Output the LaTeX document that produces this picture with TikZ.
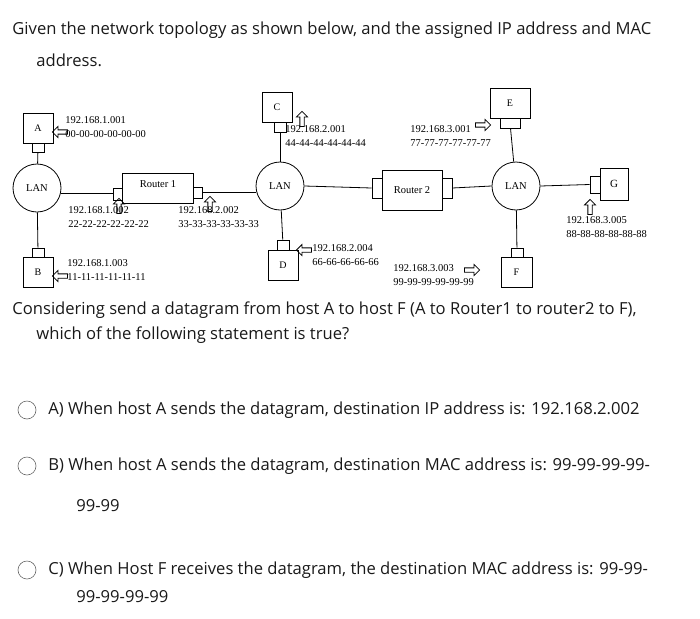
\documentclass[tikz,border=0pt]{standalone}
\usepackage{fontspec}
\setmainfont{Liberation Serif}
\newfontfamily\qfont{Open Sans}
\usetikzlibrary{shapes.arrows}
\begin{document}
\begin{tikzpicture}[x=1pt,y=-1pt,line width=0.8pt,
  box/.style={draw,fill=white,inner sep=0pt,font=\fontsize{10}{10}\selectfont},
  lan/.style={draw,circle,minimum size=48pt,inner sep=0pt,font=\fontsize{10.5}{10}\selectfont},
  hx/.style={draw,single arrow,single arrow head extend=2.5pt,minimum height=15pt,minimum width=11pt,inner sep=1.2pt,line width=0.8pt},
  lbl/.style={anchor=north west,align=left,inner sep=0pt,font=\fontsize{10.5}{14.5}\selectfont},
  q/.style={anchor=west,inner sep=0pt,font=\qfont\fontsize{16.6}{16}\selectfont,text=black!90}]
\useasboundingbox (0,0) rectangle (700,618);
% hosts and interfaces
\node[box,minimum width=30pt,minimum height=30pt] (A) at (38,128) {A};
\node[box,minimum width=12pt,minimum height=9pt] (Ai) at (38,147.5) {};
\node[lan] (L1) at (37,188) {LAN};
\node[box,minimum width=30pt,minimum height=30pt] (B) at (38,272) {B};
\node[box,minimum width=12pt,minimum height=9pt] (Bi) at (38,252.5) {};
\node[box,minimum width=71pt,minimum height=30pt,anchor=north west] (R1) at (122,173) {};
\node[font=\fontsize{10.5}{10}\selectfont] (R1t) at (158,184) {Router 1};
\node[box,minimum width=9pt,minimum height=12pt] (R1l) at (117.5,194) {};
\node[box,minimum width=9pt,minimum height=11pt] (R1r) at (197.5,192.5) {};
\node[lan] (L2) at (280,186) {LAN};
\node[box,minimum width=30pt,minimum height=30pt] (C) at (277,107) {C};
\node[box,minimum width=12pt,minimum height=10pt] (Ci) at (280,127) {};
\node[box,minimum width=30pt,minimum height=30pt] (D) at (283,265) {D};
\node[box,minimum width=12pt,minimum height=10pt] (Di) at (283,245) {};
\node[box,minimum width=60pt,minimum height=40pt,font=\fontsize{10.5}{10}\selectfont] (R2) at (412,190) {Router 2};
\node[box,minimum width=10pt,minimum height=20pt] (R2l) at (377,188) {};
\node[box,minimum width=10pt,minimum height=20pt] (R2r) at (447,188) {};
\node[lan] (L3) at (516,186) {LAN};
\node[box,minimum width=40pt,minimum height=30pt] (E) at (510,103) {E};
\node[box,minimum width=20pt,minimum height=10pt] (Ei) at (510,123) {};
\node[box,minimum width=31pt,minimum height=30pt] (F) at (516.5,272) {F};
\node[box,minimum width=12pt,minimum height=9pt] (Fi) at (517,252.5) {};
\node[box,minimum width=28pt,minimum height=32pt,font=\fontsize{11}{10}\selectfont] (G) at (614,184) {G};
\node[box,minimum width=10pt,minimum height=17pt] (Gi) at (595,184.5) {};
% links
\draw (Ai) -- (L1); \draw (Bi) -- (L1);
\draw (L1.east |- 0,193) -- (R1l.west |- 0,193);
\draw (R1r.east |- 0,192) -- (L2.west |- 0,192);
\draw (Ci) -- (L2); \draw (Di) -- (L2);
\draw (L2.east) -- (R2l.west);
\draw (R2r.east) -- (L3.west);
\draw (Ei) -- (L3); \draw (Fi) -- (L3);
\draw (L3.east) -- (Gi.west);
% arrows and labels
\node[hx,shape border rotate=180] (aA) at (61,132) {};
\node[lbl] (tA) at (65,116) {192.168.1.001\\00-00-00-00-00-00};
\node[hx,shape border rotate=90] (aR1l) at (119,207) {};
\node[lbl] (tR1l) at (68,206) {192.168.1.002\\22-22-22-22-22-22};
\node[hx,shape border rotate=90] (aR1r) at (210,205) {};
\node[lbl] (tR1r) at (178,206) {192.168.2.002\\33-33-33-33-33-33};
\node[hx,shape border rotate=90] (aC) at (302,120) {};
\node[lbl] (tC) at (285,125) {192.168.2.001\\44-44-44-44-44-44};
\node[hx,shape border rotate=180] (aD) at (305,250) {};
\node[lbl] (tD) at (312,244) {192.168.2.004\\66-66-66-66-66};
\node[hx] (aE) at (482,125) {};
\node[lbl] (tE) at (410,125) {192.168.3.001\\77-77-77-77-77-77};
\node[hx] (aF) at (471,270) {};
\node[lbl] (tF) at (393,264) {192.168.3.003\\99-99-99-99-99-99};
\node[hx,shape border rotate=90] (aG) at (590,208) {};
\node[lbl] (tG) at (566,216) {192.168.3.005\\88-88-88-88-88-88};
\node[lbl] (tB) at (67,259) {192.168.1.003\\11-11-11-11-11-11};
\node[hx,shape border rotate=180] (aB) at (61,276) {};
% question text
\node[q] (t1) at (12,30) {Given the network topology as shown below, and the assigned IP address and MAC};
\node[q] (t2) at (36,60) {address.};
\node[q] (t3) at (12,310) {Considering send a datagram from host A to host F (A to Router1 to router2 to F),};
\node[q] (t4) at (36,335) {which of the following statement is true?};
\node[draw=black!60,circle,minimum size=18pt,inner sep=0pt,line width=0.6pt] (r1) at (27,410) {};
\node[q] (o1) at (48,410) {A) When host A sends the datagram, destination IP address is: 192.168.2.002};
\node[draw=black!60,circle,minimum size=18pt,inner sep=0pt,line width=0.6pt] (r2) at (27,466) {};
\node[q] (o2) at (48,466) {B) When host A sends the datagram, destination MAC address is: 99-99-99-99-};
\node[q] (o2b) at (76,506) {99-99};
\node[draw=black!60,circle,minimum size=18pt,inner sep=0pt,line width=0.6pt] (r3) at (27,570) {};
\node[q] (o3) at (48,570) {C) When Host F receives the datagram, the destination MAC address is: 99-99-};
\node[q] (o3b) at (76,597) {99-99-99-99};
\end{tikzpicture}
\end{document}
